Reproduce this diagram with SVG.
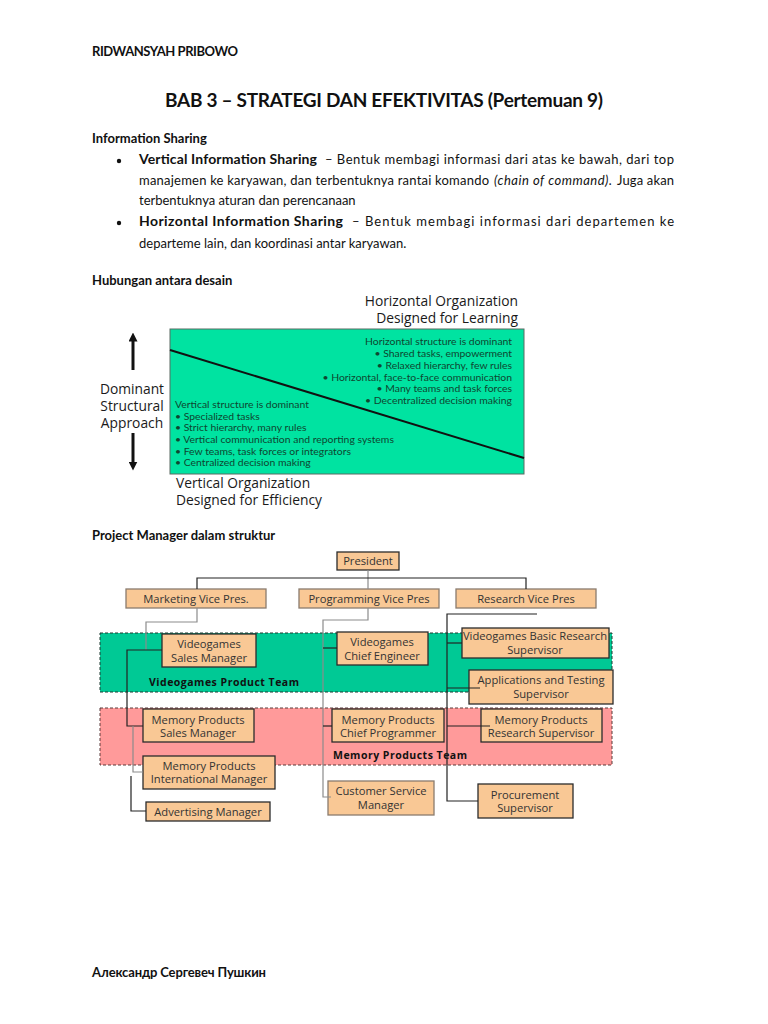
<svg xmlns="http://www.w3.org/2000/svg" width="768" height="1024" viewBox="0 0 768 1024">
<style>
.b{font-family:Lato,"Open Sans","Liberation Sans",sans-serif;font-size:13px;fill:#111}
.bb{font-family:Lato,"Open Sans","Liberation Sans",sans-serif;font-size:13px;font-weight:bold;fill:#111}
.d{font-family:Lato,"Open Sans",sans-serif;font-size:10.4px;fill:#0f4630}
.dl{font-family:"Open Sans","Noto Sans",sans-serif;font-size:13.8px;fill:#1a1a1a}
.box{fill:#F9C895;stroke:#2b2b2b;stroke-width:1.3}
.boxg{fill:#F9C895;stroke:#8a7b6e;stroke-width:1.3}
.t{font-family:"Open Sans","Noto Sans",sans-serif;font-size:11.2px;fill:#333;text-anchor:middle}
.team{font-family:"Open Sans","Noto Sans",sans-serif;font-size:10.5px;font-weight:bold;fill:#111}
.ld{fill:none;stroke:#222;stroke-width:1.2}
.lg{fill:none;stroke:#8c8c8c;stroke-width:1.2}
</style>
<defs>
<marker id="ah" viewBox="0 0 10 10" refX="5" refY="5" markerWidth="3" markerHeight="3" orient="auto-start-reverse"><path d="M0,0 L10,5 L0,10 z" fill="#111"/></marker>
</defs>
<rect width="768" height="1024" fill="#fff"/>

<g id="header">
<text x="92" y="56" class="bb" style="font-size:13px" textLength="146">RIDWANSYAH PRIBOWO</text>
<text x="165" y="107" class="bb" style="font-size:19px" textLength="438">BAB 3 – STRATEGI DAN EFEKTIVITAS (Pertemuan 9)</text>
</g>

<g id="info-sharing">
<text x="92" y="143" class="bb">Information Sharing</text>
<circle cx="119" cy="161" r="2.2" fill="#111"/>
<text x="139" y="164" class="bb" style="font-size:14px" textLength="178">Vertical Information Sharing</text>
<text x="325" y="164" class="b" textLength="349">– Bentuk membagi informasi dari atas ke bawah, dari top</text>
<text x="139" y="185" class="b" textLength="350">manajemen ke karyawan, dan terbentuknya rantai komando</text>
<text x="494" y="185" class="b" font-style="italic" textLength="118">(chain of command).</text>
<text x="617" y="185" class="b" textLength="57">Juga akan</text>
<text x="139" y="205" class="b">terbentuknya aturan dan perencanaan</text>
<circle cx="119" cy="223" r="2.2" fill="#111"/>
<text x="139" y="226" class="bb" style="font-size:14px" textLength="204">Horizontal Information Sharing</text>
<text x="352" y="226" class="b" textLength="322">– Bentuk membagi informasi dari departemen ke</text>
<text x="139" y="248" class="b">departeme lain, dan koordinasi antar karyawan.</text>
</g>

<g id="hubungan">
<text x="92" y="285" class="bb">Hubungan antara desain</text>
<text x="518" y="306" class="dl" text-anchor="end">Horizontal Organization</text>
<text x="518" y="323" class="dl" text-anchor="end">Designed for Learning</text>
<rect x="170" y="329" width="354" height="145" fill="#00E3A1" stroke="#5a6b63" stroke-width="1"/>
<line x1="170" y1="350" x2="524" y2="458" stroke="#111" stroke-width="2"/>
<g text-anchor="end">
<text x="512" y="345" class="d">Horizontal structure is dominant</text>
<text x="512" y="357" class="d">• Shared tasks, empowerment</text>
<text x="512" y="369" class="d">• Relaxed hierarchy, few rules</text>
<text x="512" y="381" class="d">• Horizontal, face-to-face communication</text>
<text x="512" y="392" class="d">• Many teams and task forces</text>
<text x="512" y="404" class="d">• Decentralized decision making</text>
</g>
<text x="175" y="408" class="d">Vertical structure is dominant</text>
<text x="175" y="420" class="d">• Specialized tasks</text>
<text x="175" y="431" class="d">• Strict hierarchy, many rules</text>
<text x="175" y="443" class="d">• Vertical communication and reporting systems</text>
<text x="175" y="455" class="d">• Few teams,  task forces or integrators</text>
<text x="175" y="466" class="d">• Centralized decision making</text>
<text x="176" y="488" class="dl">Vertical Organization</text>
<text x="176" y="505" class="dl">Designed for Efficiency</text>
<line x1="133" y1="370" x2="133" y2="337" stroke="#111" stroke-width="3" marker-end="url(#ah)"/>
<line x1="133" y1="433" x2="133" y2="466" stroke="#111" stroke-width="3" marker-end="url(#ah)"/>
<g text-anchor="middle">
<text x="132" y="394" class="dl">Dominant</text>
<text x="132" y="411" class="dl">Structural</text>
<text x="132" y="428" class="dl">Approach</text>
</g>
</g>

<text x="92" y="540" class="bb">Project Manager dalam struktur</text>

<g id="band-videogames">
<rect x="100" y="633" width="512" height="59" fill="#00C995" stroke="#1d3a30" stroke-width="1" stroke-dasharray="3,2"/>
<text x="149" y="686" class="team" textLength="150">Videogames Product Team</text>
</g>
<g id="band-memory">
<rect x="100" y="708" width="512" height="57" fill="#FF9A9A" stroke="#5a3a3a" stroke-width="1" stroke-dasharray="3,2"/>
<text x="333" y="759" class="team" textLength="134">Memory Products Team</text>
</g>

<g id="president"><rect x="337" y="552" width="62" height="18" class="box"/><text x="368" y="565" class="t">President</text></g>
<g id="marketing-vp"><rect x="126" y="589" width="140" height="19" class="boxg"/><text x="196" y="603" class="t">Marketing Vice Pres.</text></g>
<g id="programming-vp"><rect x="299" y="589" width="140" height="19" class="boxg"/><text x="369" y="603" class="t">Programming Vice Pres</text></g>
<g id="research-vp"><rect x="456" y="589" width="140" height="19" class="boxg"/><text x="526" y="603" class="t">Research Vice Pres</text></g>

<g id="vg-sales"><rect x="162" y="634" width="94" height="33" class="box"/><text x="209" y="648" class="t">Videogames</text><text x="209" y="662" class="t">Sales Manager</text></g>
<g id="vg-chief-eng"><rect x="337" y="632" width="91" height="33" class="box"/><text x="382" y="646" class="t">Videogames</text><text x="382" y="660" class="t">Chief Engineer</text></g>
<g id="vg-basic-research"><rect x="462" y="628" width="147" height="30" class="box"/><text x="535" y="640" class="t">Videogames Basic Research</text><text x="535" y="654" class="t">Supervisor</text></g>
<g id="app-testing"><rect x="469" y="670" width="144" height="34" class="box"/><text x="541" y="684" class="t">Applications and Testing</text><text x="541" y="698" class="t">Supervisor</text></g>

<g id="mp-sales"><rect x="143" y="709" width="111" height="33" class="box"/><text x="198" y="724" class="t">Memory Products</text><text x="198" y="737" class="t">Sales Manager</text></g>
<g id="mp-chief-prog"><rect x="332" y="709" width="112" height="33" class="box"/><text x="388" y="724" class="t">Memory Products</text><text x="388" y="737" class="t">Chief Programmer</text></g>
<g id="mp-research"><rect x="481" y="709" width="121" height="33" class="box"/><text x="541" y="724" class="t">Memory Products</text><text x="541" y="737" class="t">Research Supervisor</text></g>

<g id="mp-international"><rect x="143" y="756" width="132" height="33" class="box"/><text x="209" y="770" class="t">Memory Products</text><text x="209" y="783" class="t">International Manager</text></g>
<g id="advertising"><rect x="146" y="802" width="124" height="19" class="box"/><text x="208" y="816" class="t">Advertising Manager</text></g>
<g id="customer-service"><rect x="328" y="781" width="106" height="34" class="boxg"/><text x="381" y="795" class="t">Customer Service</text><text x="381" y="809" class="t">Manager</text></g>
<g id="procurement"><rect x="478" y="784" width="95" height="34" class="box"/><text x="525" y="799" class="t">Procurement</text><text x="525" y="812" class="t">Supervisor</text></g>

<g id="connectors">
<line x1="368" y1="570" x2="368" y2="589" class="lg"/>
<polyline points="197,589 197,578 526,578 526,589" class="ld" stroke="#444"/>
<polyline points="197,608 197,622 146,622 146,650" class="lg"/>
<polyline points="162,650 127,650 127,726 143,726" class="ld"/>
<polyline points="133,726 133,772 143,772" class="lg"/>
<polyline points="131,776 131,811 146,811" class="ld"/>
<polyline points="368,608 368,620 323,620 323,797 331,797" class="lg"/>
<line x1="323" y1="648" x2="337" y2="648" class="ld"/>
<line x1="323" y1="726" x2="332" y2="726" class="ld"/>
<polyline points="537,614 447,614 447,801 478,801" class="ld"/>
<line x1="447" y1="643" x2="462" y2="643" class="ld" stroke="#1c5a44"/>
<line x1="447" y1="688" x2="480" y2="688" class="ld"/>
<line x1="447" y1="726" x2="490" y2="726" class="ld"/>
</g>

<g id="footer">
<text x="92" y="977" class="bb" style="font-size:13px" textLength="174">Александр Сергевеч Пушкин</text>
</g>
</svg>
